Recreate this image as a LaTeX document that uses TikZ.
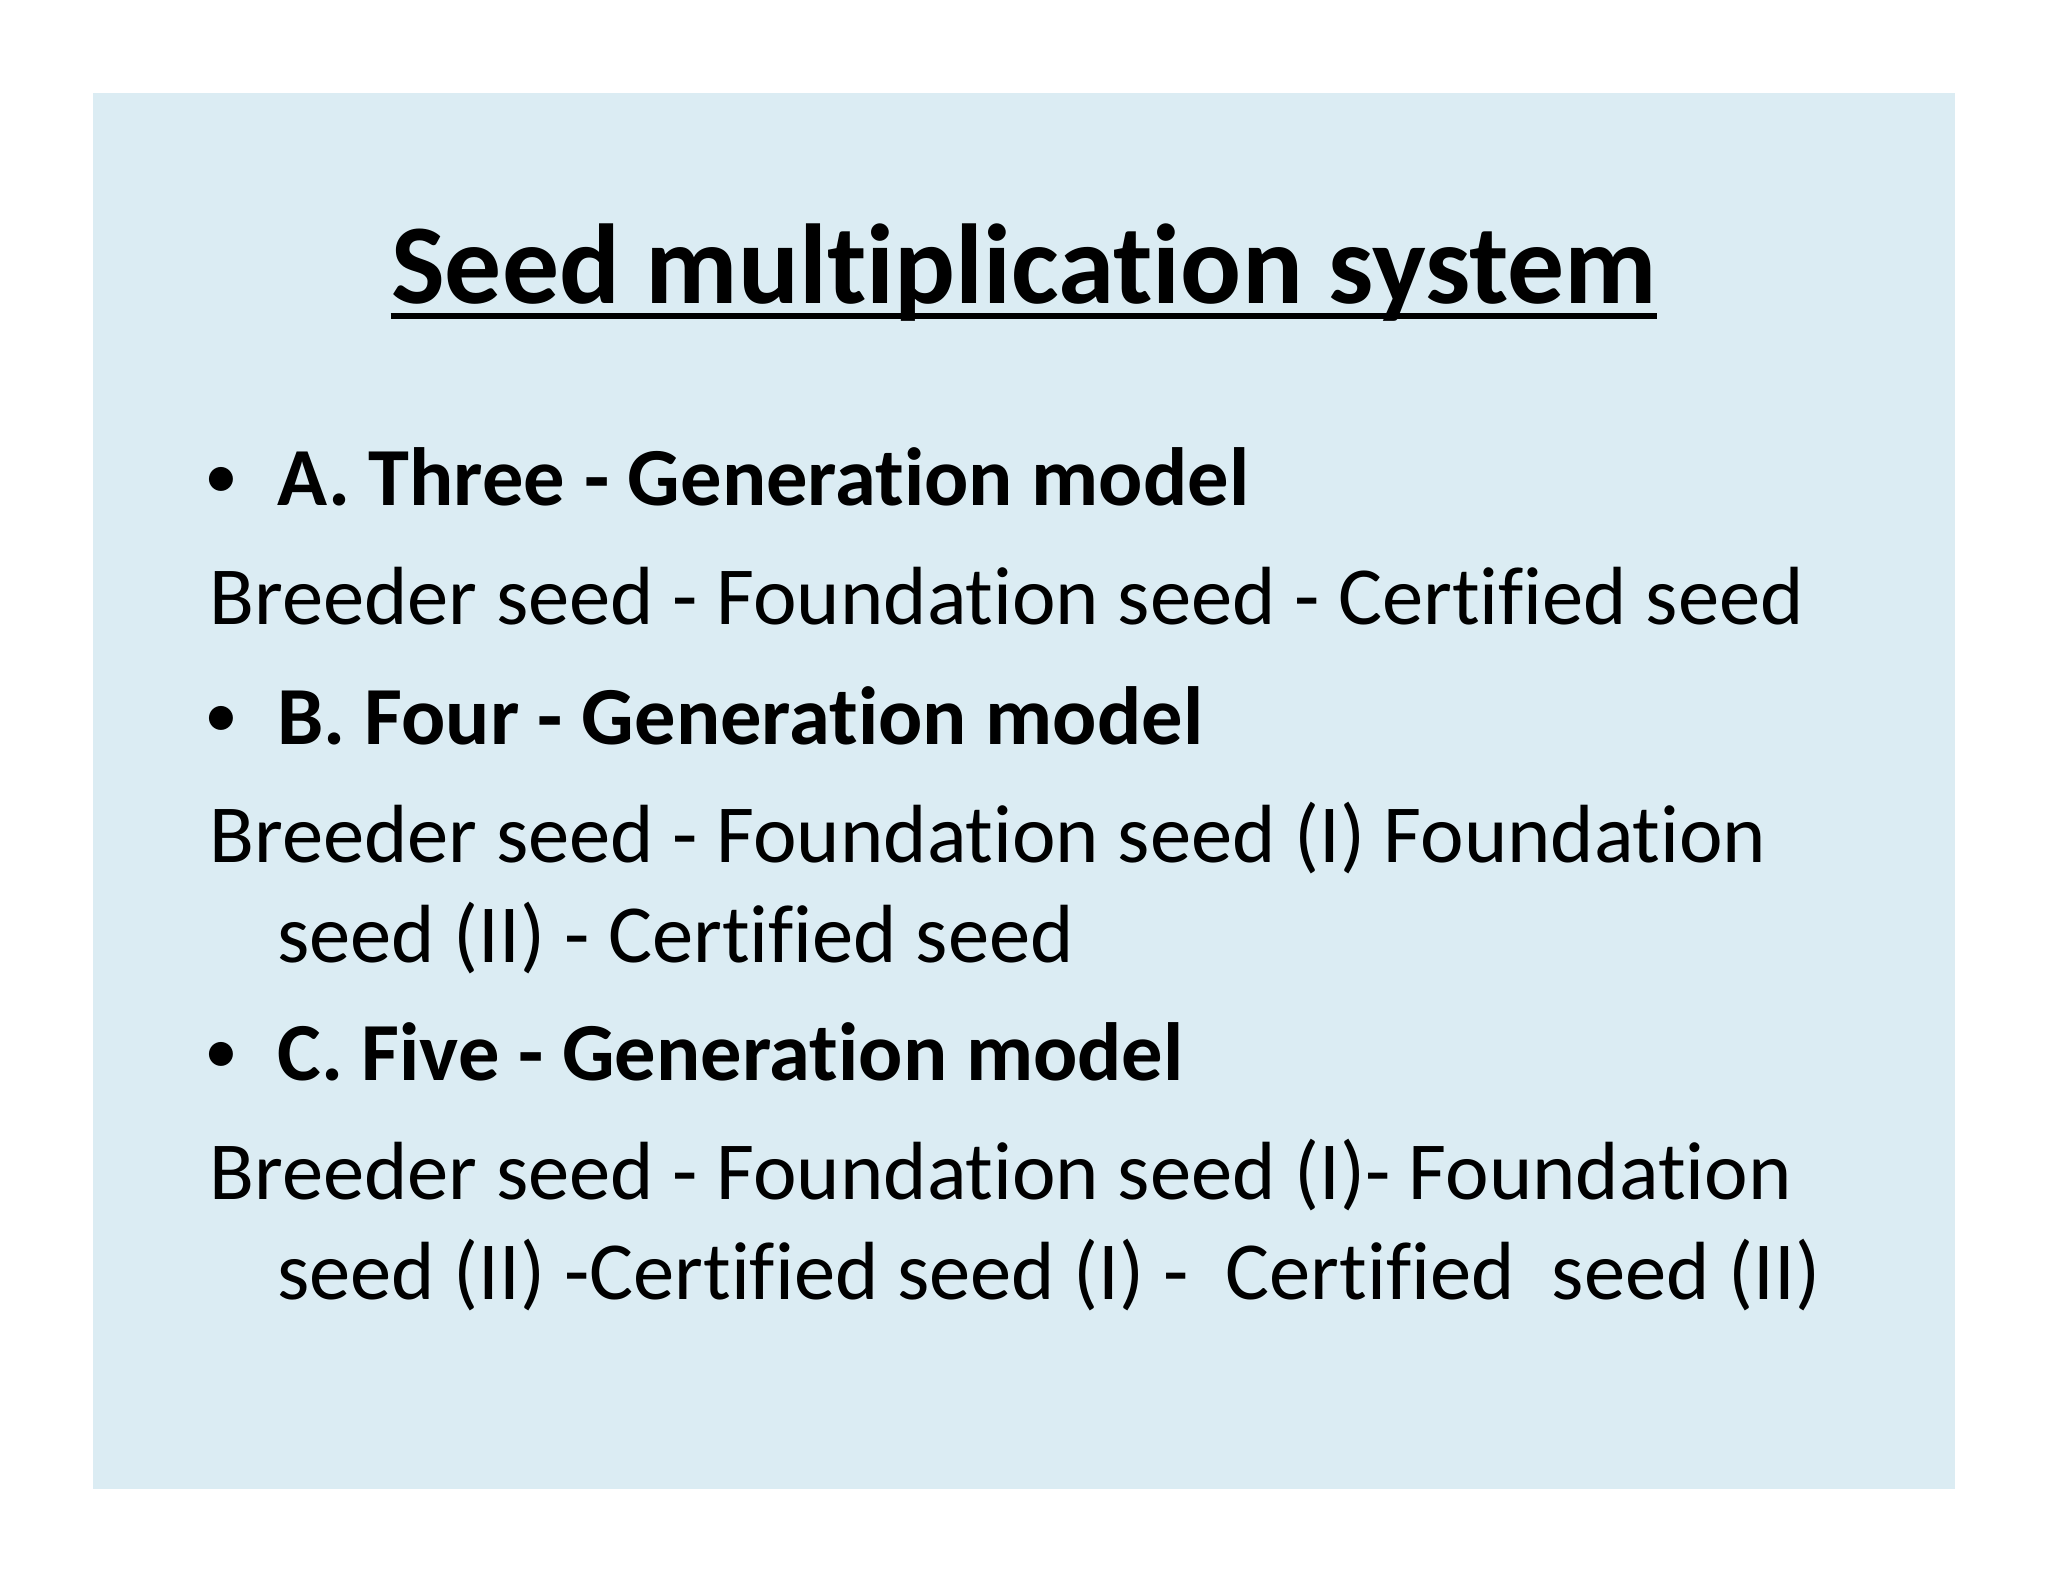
\documentclass[tikz,border=0pt]{standalone}
\usepackage{fontspec}
\setmainfont[Ligatures={NoCommon}]{Carlito}
\begin{document}
\begin{tikzpicture}[x=0.5pt,y=-0.5pt,
  txt/.style={anchor=base west,inner sep=0pt,font=\fontsize{31.6}{36}\selectfont},
  btxt/.style={txt,font=\fontsize{31.6}{36}\selectfont\bfseries},
  bul/.style={anchor=base west,inner sep=0pt,font=\fontsize{26}{30}\selectfont}]
\useasboundingbox (0,0) rectangle (1568,1211);
\fill[white] (0,0) rectangle (1568,1211);
\fill[fill={rgb,255:red,219;green,236;blue,243}] (71,71) rectangle (1497,1140);
\node[anchor=base,inner sep=0pt,font=\fontsize{43.5}{50}\selectfont\bfseries] (title) at (784,232) {Seed multiplication system};
\draw[line width=2pt] (title.base west) ++(0,10) -- ([yshift=-5pt]title.base east);
\node[bul] (b1) at (156,382) {•};
\node[btxt] (a) at (212,387) {A. Three - Generation model};
\node[txt] (a1) at (160,478) {Breeder seed - Foundation seed - Certified seed};
\node[bul] (b2) at (156,565) {•};
\node[btxt] (b) at (212,570) {B. Four - Generation model};
\node[txt] (b1t) at (160,660) {Breeder seed - Foundation seed (I) Foundation};
\node[txt] (b2t) at (212,737) {seed (II) - Certified seed};
\node[bul] (b3) at (156,822) {•};
\node[btxt] (c) at (212,827) {C. Five - Generation model};
\node[txt] (c1) at (160,918) {Breeder seed - Foundation seed (I)- Foundation};
\node[txt] (c2) at (212,995) {seed (II) -Certified seed (I) -~ Certified~ seed (II)};
\end{tikzpicture}
\end{document}
